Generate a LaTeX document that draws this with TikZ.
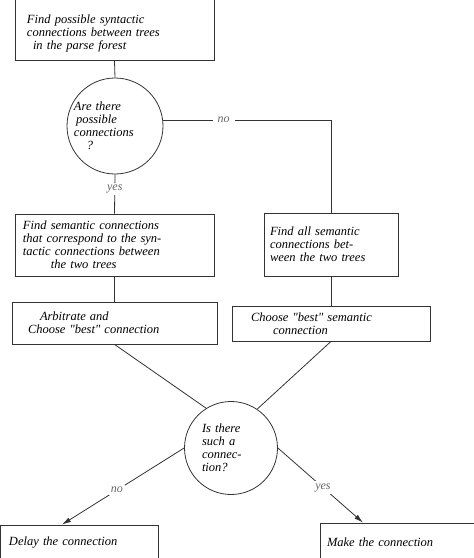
\documentclass[tikz,border=0pt]{standalone}
\usepackage{fontspec}
\setmainfont{Liberation Serif}[Ligatures=TeXOff]
\usetikzlibrary{arrows.meta}

\tikzset{
  box/.style={draw=black!80, line width=0.8pt, inner sep=0pt, align=left,
    font=\fontsize{12.5}{13}\selectfont\itshape},
  txt/.style={inner sep=0pt, align=left, font=\fontsize{12.5}{13}\selectfont\itshape},
  dec/.style={draw=black!80, line width=0.8pt, circle, inner sep=0pt, align=left,
    font=\fontsize{12.5}{13}\selectfont\itshape},
  ans/.style={fill=white, inner xsep=5pt, inner ysep=2pt, text=black!60,
    font=\fontsize{12}{13}\selectfont\itshape},
  link/.style={draw=black!80, line width=0.8pt},
  arr/.style={link, -{Latex[length=9pt,width=5pt]}}
}

\begin{document}
\begin{tikzpicture}[x=1pt, y=-1pt]
\useasboundingbox (0,0) rectangle (474,558);
\clip (0,0) rectangle (474,558);

% boxes and questions
\node[box, minimum width=199, minimum height=90, anchor=south] (syn) at (114.5,61) {};
\node[txt, text width=175] (syntxt) at (114.5,33)
  {Find possible syntactic\\connections between trees\\\hspace*{6pt}in the parse forest};
\node[dec, minimum size=96, text width=82] (q1) at (115,126)
  {Are there\\\hspace*{2pt}possible\\connections\\\hspace*{13pt}?};
\node[box, minimum width=199, minimum height=62, text width=183] (semcon) at (114.5,245)
  {Find semantic connections\\that correspond to the syn-\\tactic connections between\\\hspace*{28pt}the two trees};
\node[box, minimum width=134, minimum height=63, text width=122] (allsem) at (331,244.5)
  {Find all semantic\\connections bet-\\ween the two trees};
\node[box, minimum width=205, minimum height=42, text width=173] (arbit) at (114.5,323)
  {\hspace*{12pt}Arbitrate and\\Choose "best" connection};
\node[box, minimum width=198, minimum height=35, text width=160] (choose) at (331,323.5)
  {Choose "best" semantic\\\hspace*{22pt}connection};
\node[dec, minimum size=93, text width=58] (q2) at (231,448)
  {Is there\\such a\\connec-\\tion?};
\node[box, minimum width=158, minimum height=36, text width=140] (delay) at (79,543)
  {Delay the connection};
\node[box, minimum width=154, minimum height=38, text width=140] (make) at (397,542)
  {Make the connection};

% connectors
\draw[link] (syn.south) -- (q1.north);
\draw[link] (q1.south) -- node[ans, pos=0.38] (yes1) {yes} (semcon.north);
\draw[link] (q1.7) -| node[ans, pos=0.18] (no1) {no} (allsem.north);
\draw[link] (semcon.south) -- (arbit.north);
\draw[link] (allsem.south) -- (choose.north);
\draw[link] (arbit.south) -- (q2.122);
\draw[link] (choose.south) -- (q2.56);
\draw[arr] (q2.west) -- node[ans, pos=0.55, inner xsep=2pt] (no2) {no} ([xshift=-17pt]delay.north);
\draw[arr] (q2.east) -- node[ans, pos=0.53, inner xsep=2pt] (yes2) {yes} ([xshift=-34pt]make.north);
\end{tikzpicture}
\end{document}
